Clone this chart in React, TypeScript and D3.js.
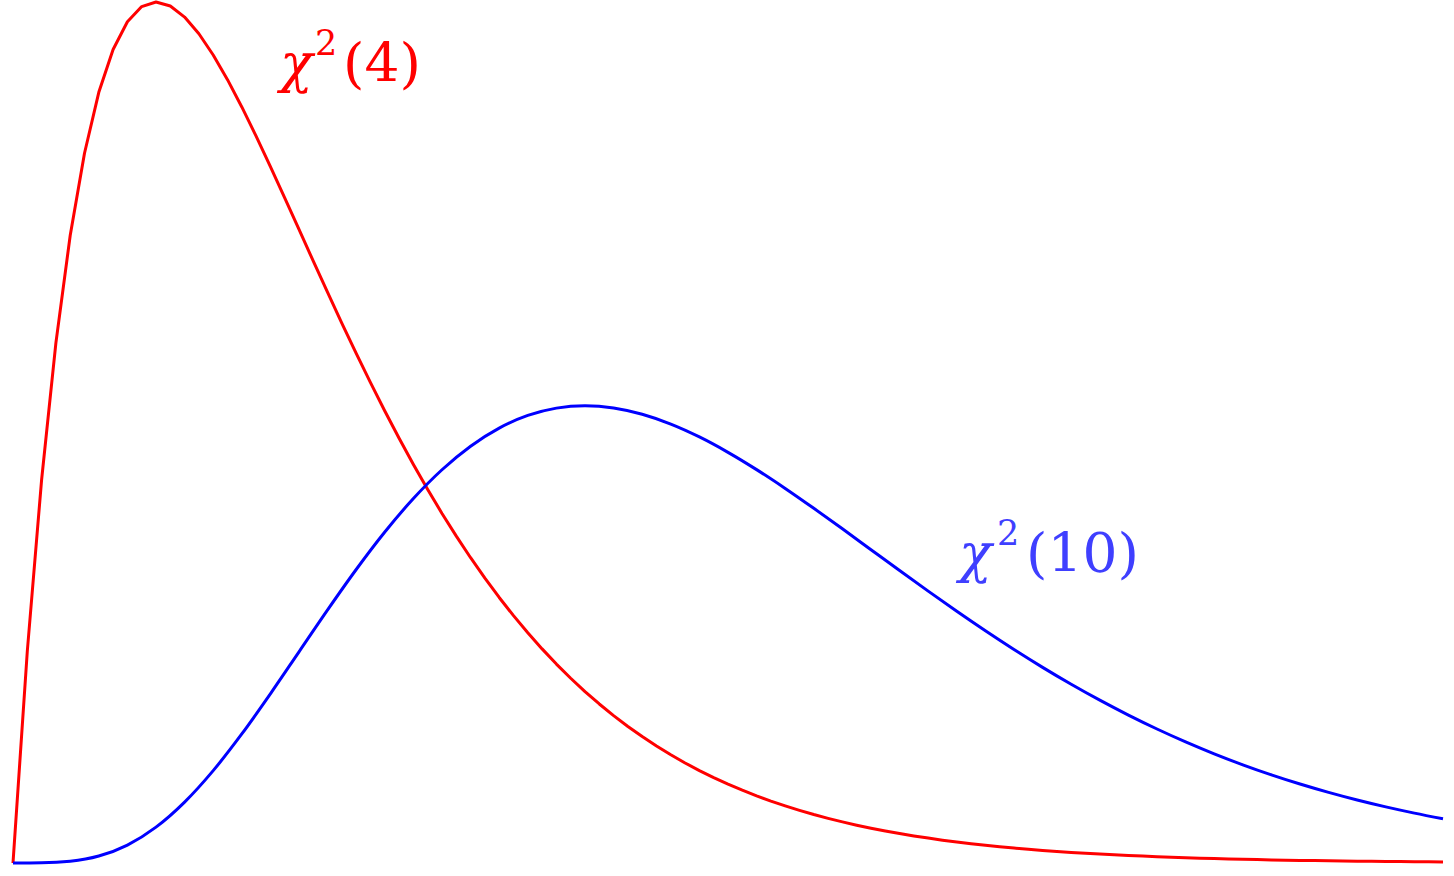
import React from "react";
import * as d3 from "d3";

// chi-square(4) density, sampled every 0.2 from x = 0 to 20
const RED_STEP = 0.2;
const chi4Values = [
  0, 0.04524, 0.08187, 0.11112, 0.13406, 0.15163, 0.16464, 0.1738, 0.17973, 0.18296,
  0.18394, 0.18308, 0.18072, 0.17715, 0.17262, 0.16735, 0.16152, 0.15528, 0.14877, 0.14209,
  0.13534, 0.12858, 0.12188, 0.1153, 0.10886, 0.10261, 0.09656, 0.09073, 0.08513, 0.07978,
  0.07468, 0.06983, 0.06522, 0.06086, 0.05673, 0.05284, 0.04918, 0.04574, 0.0425, 0.03947,
  0.03663, 0.03397, 0.03149, 0.02917, 0.02701, 0.025, 0.02312, 0.02137, 0.01975, 0.01825,
  0.01684, 0.01555, 0.01434, 0.01323, 0.0122, 0.01124, 0.01035, 0.00954, 0.00878, 0.00808,
  0.00744, 0.00684, 0.00629, 0.00578, 0.00532, 0.00488, 0.00449, 0.00412, 0.00379, 0.00348,
  0.00319, 0.00293, 0.00269, 0.00247, 0.00226, 0.00207, 0.0019, 0.00174, 0.0016, 0.00147,
  0.00134, 0.00123, 0.00113, 0.00103, 0.00095, 0.00086, 0.00079, 0.00073, 0.00066, 0.00061,
  0.00055, 0.00051, 0.00046, 0.00043, 0.00039, 0.00036, 0.00032, 0.0003, 0.00027, 0.00025,
  0.00023,
];

// chi-square(10) density, sampled every 0.4 from x = 0 to 20
const BLUE_STEP = 0.4;
const chi10Values = [
  0, 0.0000273, 0.000358, 0.001482, 0.003834, 0.007664, 0.013012, 0.019736, 0.027566, 0.036151,
  0.045112, 0.054076, 0.062704, 0.070711, 0.077869, 0.084016, 0.089046, 0.092912, 0.095612, 0.09718,
  0.097685, 0.097215, 0.095865, 0.093765, 0.091017, 0.087734, 0.084038, 0.080017, 0.075767, 0.071388,
  0.066926, 0.062474, 0.058077, 0.053777, 0.049613, 0.045613, 0.041799, 0.038187, 0.034783, 0.031596,
  0.028626, 0.02587, 0.023324, 0.020981, 0.018832, 0.016868, 0.01508, 0.013455, 0.011985, 0.010655,
  0.009458,
];

const xDomain = [0, 20];
const yDomain = [0, 0.18394];

const W = 1454;
const H = 876;

export default function App() {
  const x = d3.scaleLinear().domain(xDomain).range([13, 1443]);
  const y = d3.scaleLinear().domain(yDomain).range([863, 2]);

  const redPts: [number, number][] = chi4Values.map((v, i) => [i * RED_STEP, v]);
  const bluePts: [number, number][] = chi10Values.map((v, i) => [i * BLUE_STEP, v]);

  const redLine = d3
    .line<[number, number]>()
    .x((d) => x(d[0]))
    .y((d) => y(d[1]))
    .curve(d3.curveLinear);
  const blueLine = d3
    .line<[number, number]>()
    .x((d) => x(d[0]))
    .y((d) => y(d[1]))
    .curve(d3.curveMonotoneX);

  const font = "'DejaVu Serif', 'Liberation Serif', serif";

  const Label = ({
    x0,
    base,
    n,
    color,
    supDx,
    parDx,
  }: {
    x0: number;
    base: number;
    n: string;
    color: string;
    supDx: number;
    parDx: number;
  }) => (
    <g fill={color} fontFamily={font}>
      <text x={x0} y={base} fontSize={54} fontStyle="italic">
        χ
      </text>
      <text x={x0 + supDx} y={base - 27} fontSize={35}>
        2
      </text>
      <text x={x0 + parDx} y={base} fontSize={55}>
        {`(${n})`}
      </text>
    </g>
  );

  return (
    <svg
      width={W}
      height={H}
      viewBox={`0 0 ${W} ${H}`}
      style={{ position: "absolute", left: 0, top: 0, background: "#fff" }}
    >
      <path d={redLine(redPts) || ""} fill="none" stroke="#ff0000" strokeWidth={3} strokeLinejoin="round" />
      <path d={blueLine(bluePts) || ""} fill="none" stroke="#0000ff" strokeWidth={3} strokeLinejoin="round" />
      <Label x0={280} base={82} n="4" color="#ff0000" supDx={35} parDx={63} />
      <Label x0={959} base={572} n="10" color="#3f3fff" supDx={38} parDx={67} />
    </svg>
  );
}
